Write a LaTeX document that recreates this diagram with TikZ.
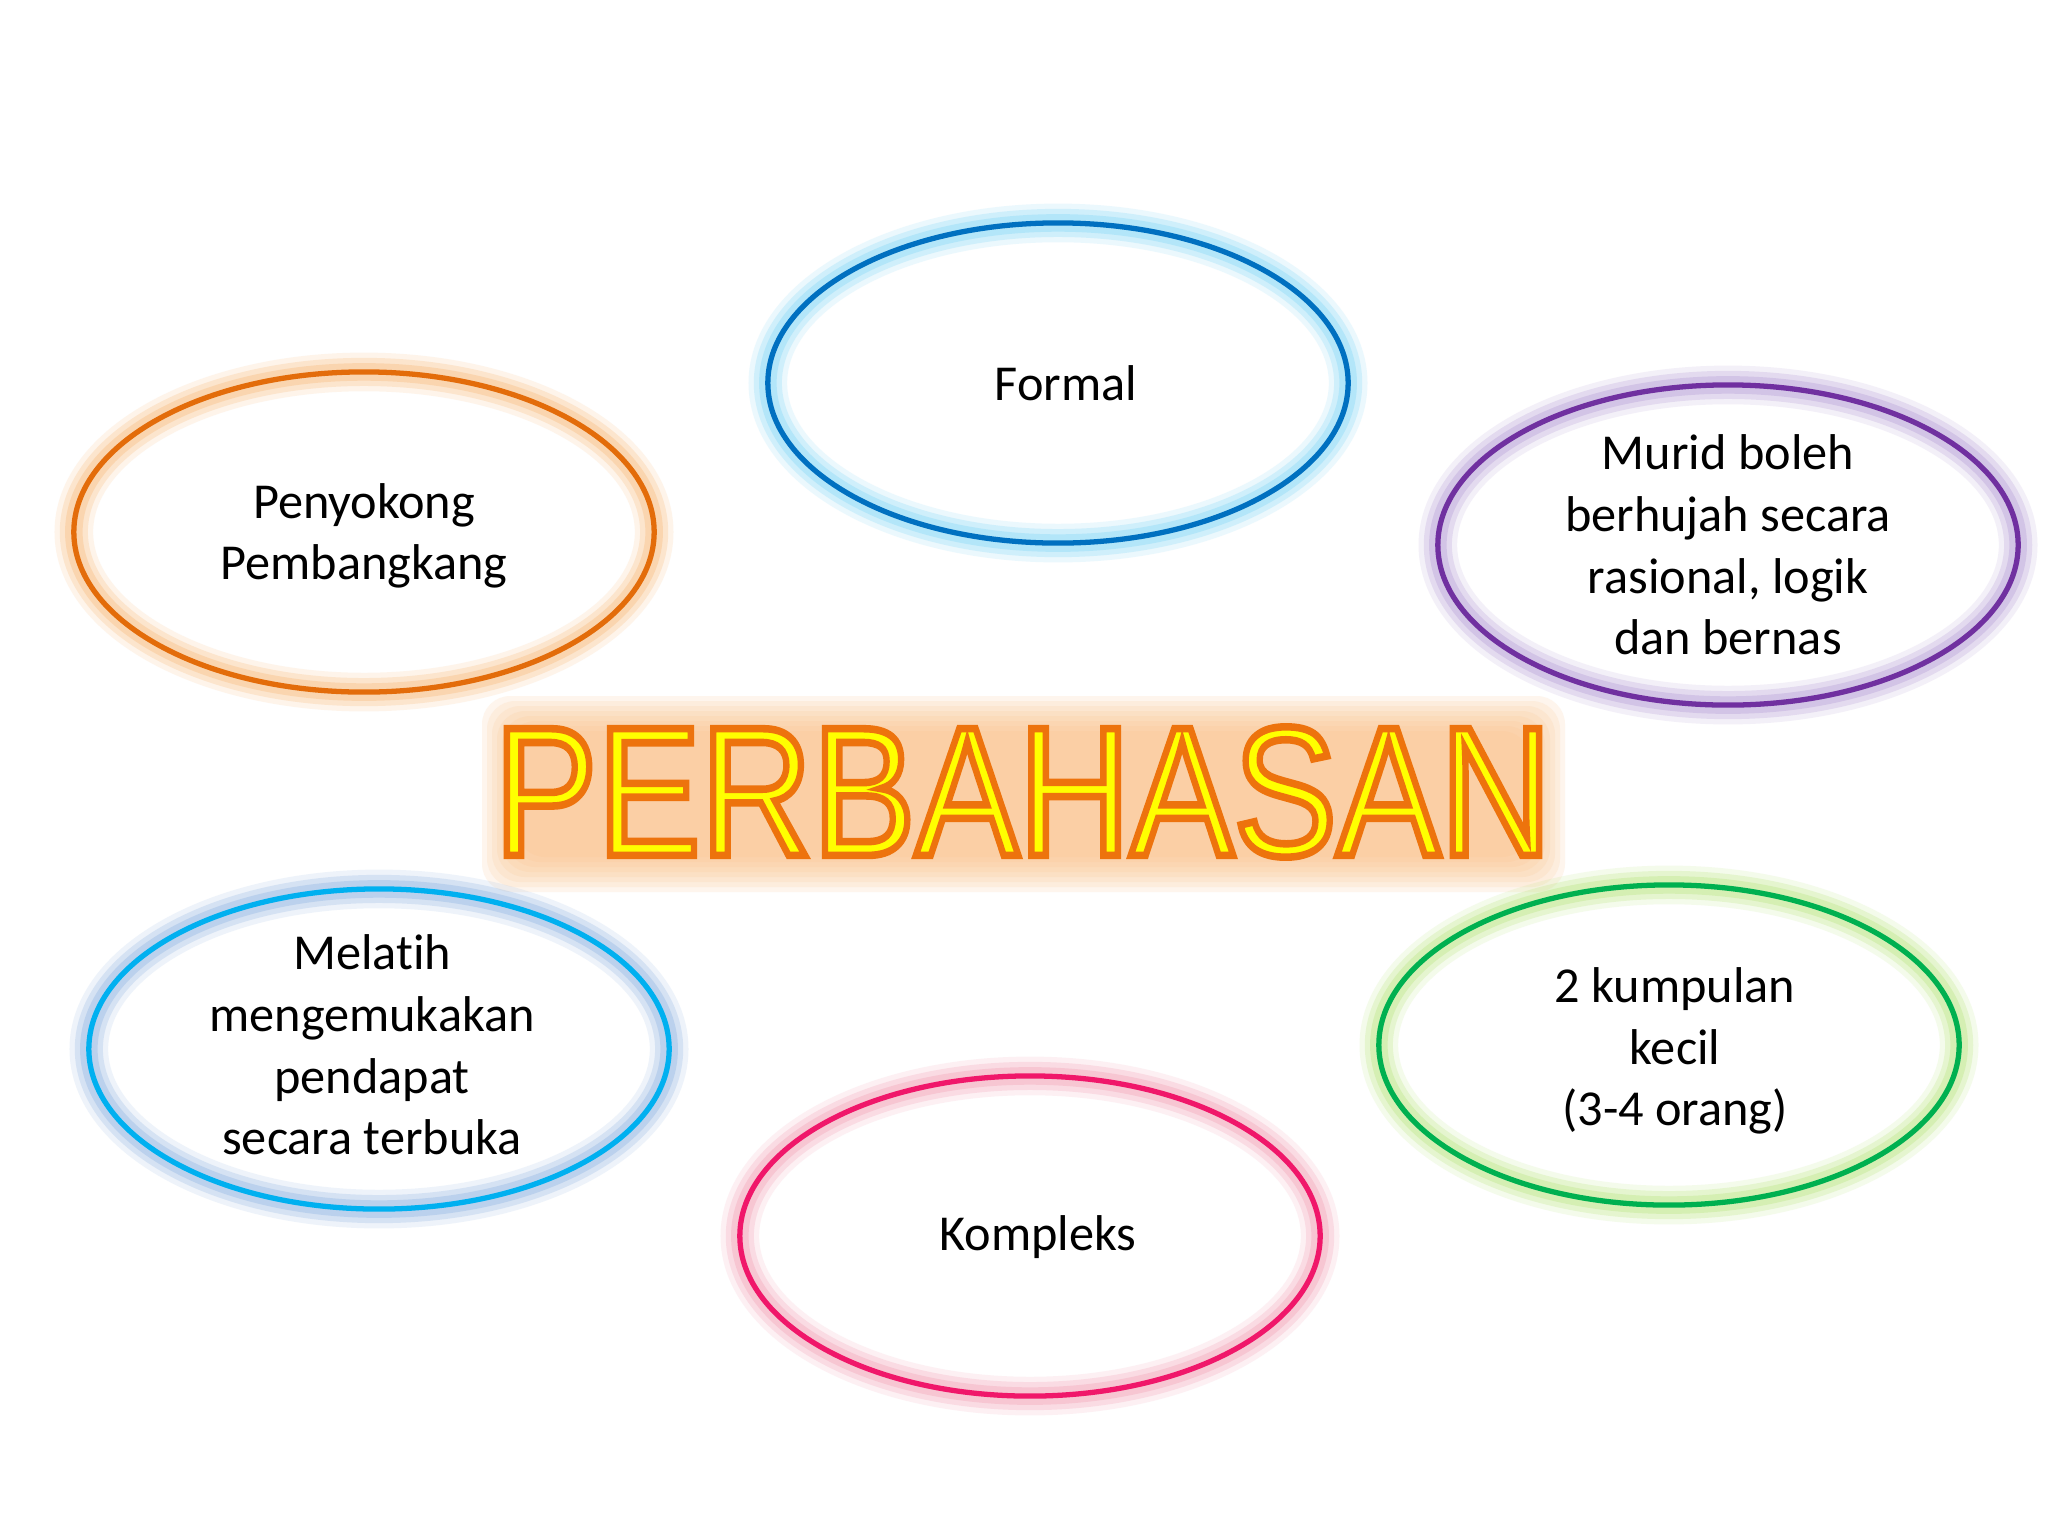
\documentclass[tikz,border=0pt]{standalone}
\usepackage{fontspec}
\setmainfont{Carlito}[Ligatures=NoCommon]
\newfontfamily\titlefont{Liberation Sans}
\usepackage{graphicx}
\usetikzlibrary{shapes.geometric}

\definecolor{formalline}{HTML}{0070C0}
\definecolor{formalglow}{HTML}{7FD6F7}
\definecolor{sideline}{HTML}{E36C0A}
\definecolor{sideglow}{HTML}{F9B978}
\definecolor{muridline}{HTML}{7030A0}
\definecolor{muridglow}{HTML}{B49BD6}
\definecolor{latihline}{HTML}{00B0F0}
\definecolor{latihglow}{HTML}{8DB3E2}
\definecolor{groupline}{HTML}{00B050}
\definecolor{groupglow}{HTML}{B9E57F}
\definecolor{kompline}{HTML}{F0176A}
\definecolor{kompglow}{HTML}{F3A0B4}
\definecolor{titlefill}{HTML}{FFFF00}
\definecolor{titleglow}{HTML}{FBBE82}

% yellow letters with an orange stroke
\newcommand{\outlined}[1]{{\color{titlefill}%
    \special{pdf:literal direct 0.93 0.45 0.05 RG 2 Tr 1.8 w}#1%
    \special{pdf:literal direct 0 Tr}}}

\begin{document}
\begin{tikzpicture}[x=0.01cm,y=-0.01cm,
        bubble/.style 2 args={ellipse,draw=#1,line width=1.5pt,
            minimum width=5.8cm,minimum height=3.2cm,inner sep=0pt,
            preaction={draw=#2,line width=11pt,draw opacity=0.15},
            preaction={draw=#2,line width=8pt,draw opacity=0.25},
            preaction={draw=#2,line width=5pt,draw opacity=0.35}},
        words/.style={align=center,inner sep=0pt,
            font=\fontsize{14.3}{17.5}\selectfont}]

    \fill[white] (0,0) rectangle (2048,1536);

    % glow behind the title
    \foreach \g in {0,5,...,35}
        \fill[titleglow,opacity=0.14,rounded corners=8pt]
            (482+\g,696+\g) rectangle (1565-\g,892-\g);

    \node[bubble={formalline}{formalglow}] (formal) at (1058,383) {};
    \node[bubble={sideline}{sideglow}] (sides) at (364,532) {};
    \node[bubble={muridline}{muridglow}] (murid) at (1728,545) {};
    \node[bubble={latihline}{latihglow}] (latih) at (379,1049) {};
    \node[bubble={groupline}{groupglow}] (group) at (1669,1045) {};
    \node[bubble={kompline}{kompglow}] (komp) at (1030,1236) {};

    \node[words] (formaltext) at (1066,383) {Formal};
    \node[words] (sidestext) at (364,536) {Penyokong\\Pembangkang};
    \node[words] (muridtext) at (1728,545) {Murid boleh\\berhujah secara\\rasional, logik\\dan bernas};
    \node[words] (latihtext) at (372,1045) {Melatih\\mengemukakan\\pendapat\\secara terbuka};
    \node[words] (grouptext) at (1675,1051) {2 kumpulan\\kecil\\(3-4 orang)};
    \node[words] (komptext) at (1038,1237) {Kompleks};

    \node[inner sep=0pt] (title) at (1023,792)
        {\scalebox{1}[1.19]{\fontsize{44}{50}\titlefont\outlined{PERBAHASAN}}};
\end{tikzpicture}
\end{document}
